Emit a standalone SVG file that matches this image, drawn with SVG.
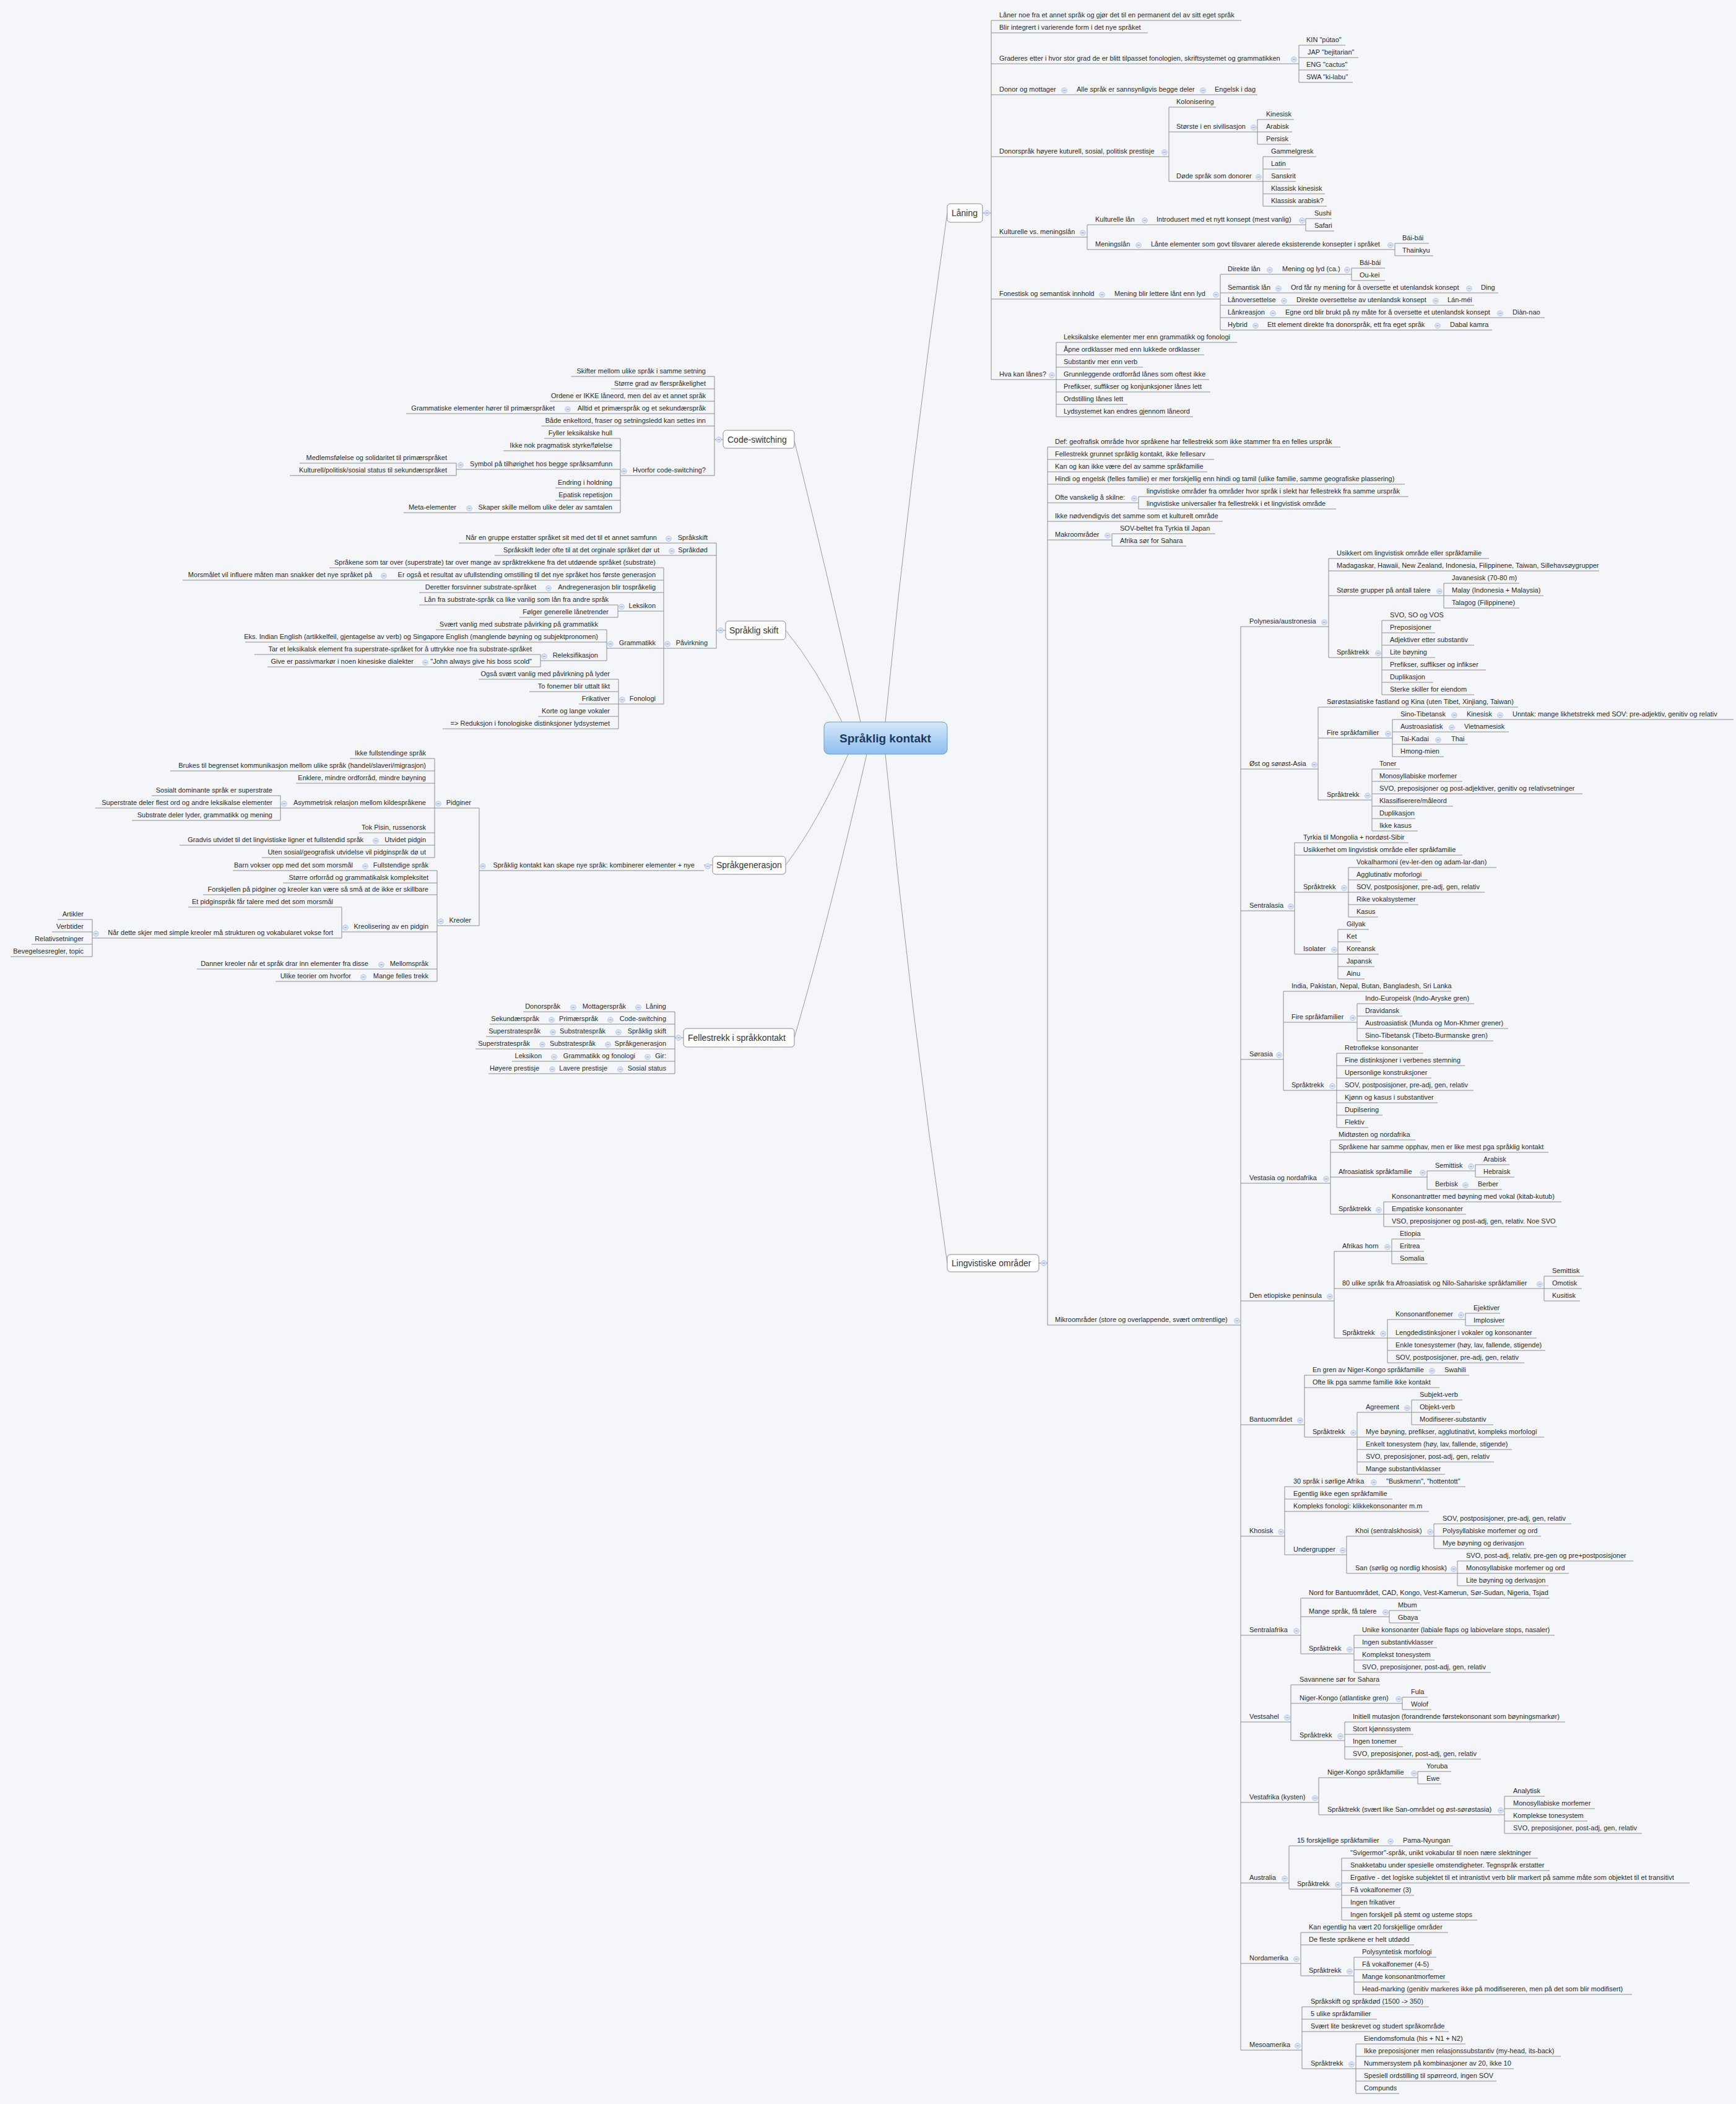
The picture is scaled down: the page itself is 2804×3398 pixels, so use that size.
<svg xmlns="http://www.w3.org/2000/svg" xmlns:xlink="http://www.w3.org/1999/xlink" width="2804" height="3398" viewBox="0 0 2804 3398">
<style>
text{font-family:"Liberation Sans",Arial,sans-serif;font-size:11px;fill:#2a2a2a}
.e{text-anchor:end}
.u,.b,.c{stroke:#8c8c8c;stroke-width:1;fill:none}
.c{stroke:#9a9a9a}
.box{fill:#fff;stroke:#8c8c8c;stroke-width:1}
.bt{font-size:14px;fill:#333}
</style>
<defs>
<linearGradient id="g" x1="0" y1="0" x2="0" y2="1"><stop offset="0" stop-color="#d6e8fb"/><stop offset="1" stop-color="#8dbdee"/></linearGradient>
<g id="m"><circle r="4.2" fill="#dfe8f5" stroke="#9fb6d6" stroke-width="0.8"/><path d="M-2.2 0H2.2" stroke="#6d8fbf" stroke-width="0.9"/></g>
</defs>
<rect width="2804" height="3398" fill="#f4f6f9"/>

<g id="connectors">
<path class="c" d="M1430 1166Q1470 760 1530 344M1430 1218Q1470 1630 1530 2040M1390 1166Q1330 900 1283 712M1360 1166Q1320 1080 1269 1018M1370 1218Q1320 1330 1269 1397M1400 1218Q1340 1480 1283 1676"/>
<path class="b" d="M1587 344H1601M1601 33V613M2098 73V133M1888 173V293M2031 193V233M2040 253V333M1756 363V403M2109 353V373M2253 393V413M1971 443V533M2183 433V453M1706 553V673"/>
<path class="b" d="M1678 2040H1692M1692 722V2140M1839 802V822M1796 862V882M2004 1012V3311M2146 902V1062M2332 942V982M2232 1002V1122M2129 1142V1292M2249 1162V1222M2216 1242V1342M2091 1361V1541M2178 1401V1481M2161 1501V1581M2073 1601V1761M2192 1621V1681M2159 1701V1821M2149 1841V1961M2305 1891V1921M2383 1881V1901M2235 1941V1981M2155 2021V2161M2248 2001V2041M2494 2061V2101M2241 2131V2201M2367 2121V2141M2107 2221V2321M2192 2281V2381M2280 2261V2301M2075 2401V2511M2175 2481V2541M2316 2461V2501M2354 2521V2561M2101 2581V2671M2244 2601V2621M2187 2641V2701M2085 2721V2811M2265 2741V2761M2172 2781V2841M2130 2871V2931M2290 2861V2881M2430 2901V2961M2082 2981V3051M2167 3001V3101M2101 3121V3191M2187 3161V3221M2103 3241V3341M2190 3301V3381"/>
<path class="b" d="M1168 710H1154M1154 608V768M1002 708V828M737 748V768M1172 1018H1157M1157 877V1047M1072 917V1137M998 977V997M980 1017V1067M873 1057V1077M999 1097V1177M1151 1397H1137M774 1305V1495M702 1225V1385M453 1285V1325M706 1406V1585M552 1465V1515M149 1485V1545M1104 1676H1090M1090 1634V1734"/>
</g>

<g id="center"><rect x="1331" y="1166" width="199" height="52" rx="8" fill="url(#g)" stroke="#6b9ccc"/><text x="1430" y="1199" text-anchor="middle" style="font-size:19px;font-weight:bold;fill:#1d3a5c">Språklig kontakt</text></g>

<g id="laning"><rect class="box" x="1530" y="329" width="57" height="30" rx="5"/><text class="bt" x="1537" y="349">Låning</text><use href="#m" x="1594" y="344"/></g>
<g id="l1"><text x="1614" y="28">Låner noe fra et annet språk og gjør det til en permanent del av sitt eget språk</text><path class="u" d="M1601 33H2005"/></g>
<g id="l2"><text x="1614" y="48">Blir integrert i varierende form i det nye språket</text><path class="u" d="M1601 53H1854"/></g>
<g id="l3"><text x="1614" y="98">Graderes etter i hvor stor grad de er blitt tilpasset fonologien, skriftsystemet og grammatikken</text><path class="u" d="M1601 103H2098"/><use href="#m" x="2090" y="96"/>
<text x="2110" y="68">KIN "pútao"</text><path class="u" d="M2098 73H2173"/><text x="2112" y="88">JAP "bejitarian"</text><path class="u" d="M2098 93H2194"/><text x="2110" y="108">ENG "cactus"</text><path class="u" d="M2098 113H2178"/><text x="2110" y="128">SWA "ki-labu"</text><path class="u" d="M2098 133H2185"/></g>
<g id="l4"><text x="1614" y="148">Donor og mottager</text><use href="#m" x="1719" y="146"/><text x="1739" y="148">Alle språk er sannsynligvis begge deler</text><use href="#m" x="1943" y="146"/><text x="1962" y="148">Engelsk i dag</text><path class="u" d="M1601 153H2031"/></g>
<g id="l5"><text x="1614" y="248">Donorspråk høyere kuturell, sosial, politisk prestisje</text><use href="#m" x="1881" y="246"/><path class="u" d="M1601 253H1888"/>
<text x="1900" y="168">Kolonisering</text><path class="u" d="M1888 173H1964"/>
<text x="1900" y="208">Største i en sivilisasjon</text><use href="#m" x="2025" y="206"/><path class="u" d="M1888 213H2031"/>
<text x="2045" y="188">Kinesisk</text><path class="u" d="M2031 193H2090"/><text x="2045" y="208">Arabisk</text><path class="u" d="M2031 213H2087"/><text x="2045" y="228">Persisk</text><path class="u" d="M2031 233H2085"/>
<text x="1900" y="288">Døde språk som donorer</text><use href="#m" x="2033" y="286"/><path class="u" d="M1888 293H2040"/>
<text x="2053" y="248">Gammelgresk</text><path class="u" d="M2040 253H2126"/><text x="2053" y="268">Latin</text><path class="u" d="M2040 273H2084"/><text x="2053" y="288">Sanskrit</text><path class="u" d="M2040 293H2093"/><text x="2053" y="308">Klassisk kinesisk</text><path class="u" d="M2040 313H2140"/><text x="2053" y="328">Klassisk arabisk?</text><path class="u" d="M2040 333H2143"/></g>
<g id="l6"><text x="1614" y="378">Kulturelle vs. meningslån</text><use href="#m" x="1749" y="376"/><path class="u" d="M1601 383H1756"/>
<text x="1769" y="358">Kulturelle lån</text><use href="#m" x="1849" y="356"/><text x="1868" y="358">Introdusert med et nytt konsept (mest vanlig)</text><use href="#m" x="2103" y="356"/><path class="u" d="M1756 363H2109"/>
<text x="2123" y="348">Sushi</text><path class="u" d="M2109 353H2151"/><text x="2123" y="368">Safari</text><path class="u" d="M2109 373H2155"/>
<text x="1769" y="398">Meningslån</text><use href="#m" x="1839" y="396"/><text x="1859" y="398">Lånte elementer som govt tilsvarer alerede eksisterende konsepter i språket</text><use href="#m" x="2246" y="396"/><path class="u" d="M1756 403H2253"/>
<text x="2265" y="388">Bái-bái</text><path class="u" d="M2253 393H2308"/><text x="2265" y="408">Thainkyu</text><path class="u" d="M2253 413H2315"/></g>
<g id="l7"><text x="1614" y="478">Fonestisk og semantisk innhold</text><use href="#m" x="1780" y="476"/><text x="1800" y="478">Mening blir lettere lånt enn lyd</text><use href="#m" x="1964" y="476"/><path class="u" d="M1601 483H1971"/>
<text x="1983" y="438">Direkte lån</text><use href="#m" x="2051" y="436"/><text x="2071" y="438">Mening og lyd (ca.)</text><use href="#m" x="2176" y="436"/><path class="u" d="M1971 443H2183"/>
<text x="2196" y="428">Bái-bái</text><path class="u" d="M2183 433H2237"/><text x="2196" y="448">Ou-kei</text><path class="u" d="M2183 453H2237"/>
<text x="1983" y="468">Semantisk lån</text><use href="#m" x="2065" y="466"/><text x="2085" y="468">Ord får ny mening for å oversette et utenlandsk konsept</text><use href="#m" x="2373" y="466"/><text x="2392" y="468">Ding</text><path class="u" d="M1971 473H2420"/>
<text x="1983" y="488">Lånoversettelse</text><use href="#m" x="2074" y="486"/><text x="2094" y="488">Direkte oversettelse av utenlandsk konsept</text><use href="#m" x="2319" y="486"/><text x="2338" y="488">Lán-méi</text><path class="u" d="M1971 493H2381"/>
<text x="1983" y="508">Lånkreasjon</text><use href="#m" x="2056" y="506"/><text x="2076" y="508">Egne ord blir brukt på ny måte for å oversette et utenlandsk konsept</text><use href="#m" x="2423" y="506"/><text x="2443" y="508">Diàn-nao</text><path class="u" d="M1971 513H2495"/>
<text x="1983" y="528">Hybrid</text><use href="#m" x="2028" y="526"/><text x="2047" y="528">Ett element direkte fra donorspråk, ett fra eget språk</text><use href="#m" x="2322" y="526"/><text x="2342" y="528">Dabal kamra</text><path class="u" d="M1971 533H2410"/></g>
<g id="l8"><text x="1614" y="608">Hva kan lånes?</text><use href="#m" x="1699" y="606"/><path class="u" d="M1601 613H1706"/>
<text x="1718" y="548">Leksikalske elementer mer enn grammatikk og fonologi</text><path class="u" d="M1706 553H1998"/>
<text x="1718" y="568">Åpne ordklasser med enn lukkede ordklasser</text><path class="u" d="M1706 573H1945"/>
<text x="1718" y="588">Substantiv mer enn verb</text><path class="u" d="M1706 593H1846"/>
<text x="1718" y="608">Grunnleggende ordforråd lånes som oftest ikke</text><path class="u" d="M1706 613H1953"/>
<text x="1718" y="628">Prefikser, suffikser og konjunksjoner lånes lett</text><path class="u" d="M1706 633H1955"/>
<text x="1718" y="648">Ordstilling lånes lett</text><path class="u" d="M1706 653H1821"/>
<text x="1718" y="668">Lydsystemet kan endres gjennom låneord</text><path class="u" d="M1706 673H1927"/></g>

<g id="lingv"><rect class="box" x="1530" y="2026" width="148" height="28" rx="5"/><text class="bt" x="1537" y="2045">Lingvistiske områder</text><use href="#m" x="1686" y="2040"/></g>
<g id="v1"><text x="1704" y="717">Def: geofrafisk område hvor språkene har fellestrekk som ikke stammer fra en felles urspråk</text><path class="u" d="M1692 722H2165"/>
<text x="1704" y="737">Fellestrekk grunnet språklig kontakt, ikke fellesarv</text><path class="u" d="M1692 742H1961"/>
<text x="1704" y="757">Kan og kan ikke være del av samme språkfamilie</text><path class="u" d="M1692 762H1950"/>
<text x="1704" y="777">Hindi og engelsk (felles familie) er mer forskjellig enn hindi og tamil (ulike familie, samme geografiske plassering)</text><path class="u" d="M1692 782H2269"/></g>
<g id="v2"><text x="1704" y="807">Ofte vanskelig å skilne:</text><use href="#m" x="1832" y="805"/><path class="u" d="M1692 812H1839"/>
<text x="1852" y="797">lingvistiske områder fra områder hvor språk i slekt har fellestrekk fra samme urspråk</text><path class="u" d="M1839 802H2275"/>
<text x="1852" y="817">lingvistiske universalier fra fellestrekk i et lingvistisk område</text><path class="u" d="M1839 822H2158"/></g>
<g id="v3"><text x="1704" y="837">Ikke nødvendigvis det samme som et kulturelt område</text><path class="u" d="M1692 842H1975"/></g>
<g id="v4"><text x="1704" y="867">Makroområder</text><use href="#m" x="1789" y="865"/><path class="u" d="M1692 872H1796"/>
<text x="1809" y="857">SOV-beltet fra Tyrkia til Japan</text><path class="u" d="M1796 862H1963"/><text x="1809" y="877">Afrika sør for Sahara</text><path class="u" d="M1796 882H1916"/></g>
<g id="v5"><text x="1704" y="2135">Mikroområder (store og overlappende, svært omtrentlige)</text><use href="#m" x="1998" y="2133"/><path class="u" d="M1692 2140H2004"/></g>

<g id="poly"><text x="2018" y="1007">Polynesia/austronesia</text><use href="#m" x="2139" y="1005"/><path class="u" d="M2004 1012H2146"/>
<text x="2159" y="897">Usikkert om lingvistisk område eller språkfamilie</text><path class="u" d="M2146 902H2405"/>
<text x="2159" y="917">Madagaskar, Hawaii, New Zealand, Indonesia, Filippinene, Taiwan, Sillehavsøygrupper</text><path class="u" d="M2146 922H2583"/>
<text x="2159" y="957">Største grupper på antall talere</text><use href="#m" x="2325" y="955"/><path class="u" d="M2146 962H2332"/>
<text x="2345" y="937">Javanesisk (70-80 m)</text><path class="u" d="M2332 942H2454"/><text x="2345" y="957">Malay (Indonesia + Malaysia)</text><path class="u" d="M2332 962H2493"/><text x="2345" y="977">Talagog (Filippinene)</text><path class="u" d="M2332 982H2454"/>
<text x="2159" y="1057">Språktrekk</text><use href="#m" x="2226" y="1055"/><path class="u" d="M2146 1062H2232"/>
<text x="2245" y="997">SVO, SO og VOS</text><path class="u" d="M2232 1002H2327"/><text x="2245" y="1017">Preposisjoner</text><path class="u" d="M2232 1022H2318"/><text x="2245" y="1037">Adjektiver etter substantiv</text><path class="u" d="M2232 1042H2381"/><text x="2245" y="1057">Lite bøyning</text><path class="u" d="M2232 1062H2318"/><text x="2245" y="1077">Prefikser, suffikser og infikser</text><path class="u" d="M2232 1082H2400"/><text x="2245" y="1097">Duplikasjon</text><path class="u" d="M2232 1102H2315"/><text x="2245" y="1117">Sterke skiller for eiendom</text><path class="u" d="M2232 1122H2381"/></g>

<g id="ost"><text x="2018" y="1237">Øst og sørøst-Asia</text><use href="#m" x="2123" y="1235"/><path class="u" d="M2004 1242H2129"/>
<text x="2143" y="1137">Sørøstasiatiske fastland og Kina (uten Tibet, Xinjiang, Taiwan)</text><path class="u" d="M2129 1142H2452"/>
<text x="2143" y="1187">Fire språkfamilier</text><use href="#m" x="2242" y="1185"/><path class="u" d="M2129 1192H2249"/>
<text x="2262" y="1157">Sino-Tibetansk</text><use href="#m" x="2349" y="1155"/><text x="2369" y="1157">Kinesisk</text><use href="#m" x="2423" y="1155"/><text x="2443" y="1157">Unntak: mange likhetstrekk med SOV: pre-adjektiv, genitiv og relativ</text><path class="u" d="M2249 1162H2800"/>
<text x="2262" y="1177">Austroasiatisk</text><use href="#m" x="2345" y="1175"/><text x="2365" y="1177">Vietnamesisk</text><path class="u" d="M2249 1182H2437"/>
<text x="2262" y="1197">Tai-Kadai</text><use href="#m" x="2323" y="1195"/><text x="2344" y="1197">Thai</text><path class="u" d="M2249 1202H2371"/>
<text x="2262" y="1217">Hmong-mien</text><path class="u" d="M2249 1222H2332"/>
<text x="2143" y="1287">Språktrekk</text><use href="#m" x="2209" y="1285"/><path class="u" d="M2129 1292H2216"/>
<text x="2228" y="1237">Toner</text><path class="u" d="M2216 1242H2261"/><text x="2228" y="1257">Monosyllabiske morfemer</text><path class="u" d="M2216 1262H2362"/><text x="2228" y="1277">SVO, preposisjoner og post-adjektiver, genitiv og relativsetninger</text><path class="u" d="M2216 1282H2556"/><text x="2228" y="1297">Klassifiserere/måleord</text><path class="u" d="M2216 1302H2347"/><text x="2228" y="1317">Duplikasjon</text><path class="u" d="M2216 1322H2286"/><text x="2228" y="1337">Ikke kasus</text><path class="u" d="M2216 1342H2290"/></g>

<g id="sentralasia"><text x="2018" y="1466">Sentralasia</text><use href="#m" x="2085" y="1464"/><path class="u" d="M2004 1471H2091"/>
<text x="2105" y="1356">Tyrkia til Mongolia + nordøst-Sibir</text><path class="u" d="M2091 1361H2275"/>
<text x="2105" y="1376">Usikkerhet om lingvistisk område eller språkfamilie</text><path class="u" d="M2091 1381H2362"/>
<text x="2105" y="1436">Språktrekk</text><use href="#m" x="2171" y="1434"/><path class="u" d="M2091 1441H2178"/>
<text x="2191" y="1396">Vokalharmoni (ev-ler-den og adam-lar-dan)</text><path class="u" d="M2178 1401H2417"/><text x="2191" y="1416">Agglutinativ moforlogi</text><path class="u" d="M2178 1421H2306"/><text x="2191" y="1436">SOV, postposisjoner, pre-adj, gen, relativ</text><path class="u" d="M2178 1441H2398"/><text x="2191" y="1456">Rike vokalsystemer</text><path class="u" d="M2178 1461H2291"/><text x="2191" y="1476">Kasus</text><path class="u" d="M2178 1481H2226"/>
<text x="2105" y="1536">Isolater</text><use href="#m" x="2155" y="1534"/><path class="u" d="M2091 1541H2161"/>
<text x="2175" y="1496">Gilyak</text><path class="u" d="M2161 1501H2211"/><text x="2175" y="1516">Ket</text><path class="u" d="M2161 1521H2198"/><text x="2175" y="1536">Koreansk</text><path class="u" d="M2161 1541H2227"/><text x="2175" y="1556">Japansk</text><path class="u" d="M2161 1561H2220"/><text x="2175" y="1576">Ainu</text><path class="u" d="M2161 1581H2204"/></g>

<g id="sorasia"><text x="2018" y="1706">Sørasia</text><use href="#m" x="2066" y="1704"/><path class="u" d="M2004 1711H2073"/>
<text x="2086" y="1596">India, Pakistan, Nepal, Butan, Bangladesh, Sri Lanka</text><path class="u" d="M2073 1601H2344"/>
<text x="2086" y="1646">Fire språkfamilier</text><use href="#m" x="2185" y="1644"/><path class="u" d="M2073 1651H2192"/>
<text x="2205" y="1616">Indo-Europeisk (Indo-Aryske gren)</text><path class="u" d="M2192 1621H2381"/><text x="2205" y="1636">Dravidansk</text><path class="u" d="M2192 1641H2265"/><text x="2205" y="1656">Austroasiatisk (Munda og Mon-Khmer grener)</text><path class="u" d="M2192 1661H2436"/><text x="2205" y="1676">Sino-Tibetansk (Tibeto-Burmanske gren)</text><path class="u" d="M2192 1681H2412"/>
<text x="2086" y="1756">Språktrekk</text><use href="#m" x="2152" y="1754"/><path class="u" d="M2073 1761H2159"/>
<text x="2172" y="1696">Retroflekse konsonanter</text><path class="u" d="M2159 1701H2299"/><text x="2172" y="1716">Fine distinksjoner i verbenes stemning</text><path class="u" d="M2159 1721H2366"/><text x="2172" y="1736">Upersonlige konstruksjoner</text><path class="u" d="M2159 1741H2312"/><text x="2172" y="1756">SOV, postposisjoner, pre-adj, gen, relativ</text><path class="u" d="M2159 1761H2380"/><text x="2172" y="1776">Kjønn og kasus i substantiver</text><path class="u" d="M2159 1781H2322"/><text x="2172" y="1796">Dupilsering</text><path class="u" d="M2159 1801H2233"/><text x="2172" y="1816">Flektiv</text><path class="u" d="M2159 1821H2210"/></g>

<g id="vestasia"><text x="2018" y="1906">Vestasia og nordafrika</text><use href="#m" x="2142" y="1904"/><path class="u" d="M2004 1911H2149"/>
<text x="2162" y="1836">Midtøsten og nordafrika</text><path class="u" d="M2149 1841H2286"/>
<text x="2162" y="1856">Språkene har samme opphav, men er like mest pga språklig kontakt</text><path class="u" d="M2149 1861H2501"/>
<text x="2162" y="1896">Afroasiatisk språkfamilie</text><use href="#m" x="2298" y="1894"/><path class="u" d="M2149 1901H2305"/>
<text x="2318" y="1886">Semittisk</text><use href="#m" x="2376" y="1884"/><path class="u" d="M2305 1891H2383"/>
<text x="2396" y="1876">Arabisk</text><path class="u" d="M2383 1881H2438"/><text x="2396" y="1896">Hebraisk</text><path class="u" d="M2383 1901H2446"/>
<text x="2318" y="1916">Berbisk</text><use href="#m" x="2367" y="1914"/><text x="2387" y="1916">Berber</text><path class="u" d="M2305 1921H2426"/>
<text x="2162" y="1956">Språktrekk</text><use href="#m" x="2227" y="1954"/><path class="u" d="M2149 1961H2235"/>
<text x="2248" y="1936">Konsonantrøtter med bøyning med vokal (kitab-kutub)</text><path class="u" d="M2235 1941H2522"/><text x="2248" y="1956">Empatiske konsonanter</text><path class="u" d="M2235 1961H2368"/><text x="2248" y="1976">VSO, preposisjoner og post-adj, gen, relativ. Noe SVO</text><path class="u" d="M2235 1981H2515"/></g>

<g id="etiop"><text x="2018" y="2096">Den etiopiske peninsula</text><use href="#m" x="2148" y="2094"/><path class="u" d="M2004 2101H2155"/>
<text x="2168" y="2016">Afrikas horn</text><use href="#m" x="2241" y="2014"/><path class="u" d="M2155 2021H2248"/>
<text x="2261" y="1996">Etiopia</text><path class="u" d="M2248 2001H2301"/><text x="2261" y="2016">Eritrea</text><path class="u" d="M2248 2021H2300"/><text x="2261" y="2036">Somalia</text><path class="u" d="M2248 2041H2306"/>
<text x="2168" y="2076">80 ulike språk fra Afroasiatisk og Nilo-Sahariske språkfamilier</text><use href="#m" x="2487" y="2074"/><path class="u" d="M2155 2081H2494"/>
<text x="2507" y="2056">Semittisk</text><path class="u" d="M2494 2061H2558"/><text x="2507" y="2076">Omotisk</text><path class="u" d="M2494 2081H2555"/><text x="2507" y="2096">Kusitisk</text><path class="u" d="M2494 2101H2552"/>
<text x="2168" y="2156">Språktrekk</text><use href="#m" x="2234" y="2154"/><path class="u" d="M2155 2161H2241"/>
<text x="2254" y="2126">Konsonantfonemer</text><use href="#m" x="2360" y="2124"/><path class="u" d="M2241 2131H2367"/>
<text x="2380" y="2116">Ejektiver</text><path class="u" d="M2367 2121H2423"/><text x="2380" y="2136">Implosiver</text><path class="u" d="M2367 2141H2430"/>
<text x="2254" y="2156">Lengdedistinksjoner i vokaler og konsonanter</text><path class="u" d="M2241 2161H2482"/><text x="2254" y="2176">Enkle tonesystemer (høy, lav, fallende, stigende)</text><path class="u" d="M2241 2181H2496"/><text x="2254" y="2196">SOV, postposisjoner, pre-adj, gen, relativ</text><path class="u" d="M2241 2201H2462"/></g>

<g id="bantu"><text x="2018" y="2296">Bantuområdet</text><use href="#m" x="2100" y="2294"/><path class="u" d="M2004 2301H2107"/>
<text x="2120" y="2216">En gren av Niger-Kongo språkfamilie</text><use href="#m" x="2313" y="2214"/><text x="2333" y="2216">Swahili</text><path class="u" d="M2107 2221H2373"/>
<text x="2120" y="2236">Ofte lik pga samme familie ikke kontakt</text><path class="u" d="M2107 2241H2325"/>
<text x="2120" y="2316">Språktrekk</text><use href="#m" x="2186" y="2314"/><path class="u" d="M2107 2321H2192"/>
<text x="2206" y="2276">Agreement</text><use href="#m" x="2273" y="2274"/><path class="u" d="M2192 2281H2280"/>
<text x="2293" y="2256">Subjekt-verb</text><path class="u" d="M2280 2261H2362"/><text x="2293" y="2276">Objekt-verb</text><path class="u" d="M2280 2281H2359"/><text x="2293" y="2296">Modifiserer-substantiv</text><path class="u" d="M2280 2301H2412"/>
<text x="2206" y="2316">Mye bøyning, prefikser, agglutinativt, kompleks morfologi</text><path class="u" d="M2192 2321H2494"/><text x="2206" y="2336">Enkelt tonesystem (høy, lav, fallende, stigende)</text><path class="u" d="M2192 2341H2442"/><text x="2206" y="2356">SVO, preposisjoner, post-adj, gen, relativ</text><path class="u" d="M2192 2361H2413"/><text x="2206" y="2376">Mange substantivklasser</text><path class="u" d="M2192 2381H2334"/></g>

<g id="khosisk"><text x="2018" y="2476">Khosisk</text><use href="#m" x="2069" y="2474"/><path class="u" d="M2004 2481H2075"/>
<text x="2089" y="2396">30 språk i sørlige Afrika</text><use href="#m" x="2219" y="2394"/><text x="2239" y="2396">"Buskmenn", "hottentott"</text><path class="u" d="M2075 2401H2367"/>
<text x="2089" y="2416">Egentlig ikke egen språkfamilie</text><path class="u" d="M2075 2421H2249"/>
<text x="2089" y="2436">Kompleks fonologi: klikkekonsonanter m.m</text><path class="u" d="M2075 2441H2308"/>
<text x="2089" y="2506">Undergrupper</text><use href="#m" x="2169" y="2504"/><path class="u" d="M2075 2511H2175"/>
<text x="2189" y="2476">Khoi (sentralskhosisk)</text><use href="#m" x="2310" y="2474"/><path class="u" d="M2175 2481H2316"/>
<text x="2330" y="2456">SOV, postposisjoner, pre-adj, gen, relativ</text><path class="u" d="M2316 2461H2538"/><text x="2330" y="2476">Polysyllabiske morfemer og ord</text><path class="u" d="M2316 2481H2489"/><text x="2330" y="2496">Mye bøyning og derivasjon</text><path class="u" d="M2316 2501H2465"/>
<text x="2189" y="2536">San (sørlig og nordlig khosisk)</text><use href="#m" x="2348" y="2534"/><path class="u" d="M2175 2541H2354"/>
<text x="2368" y="2516">SVO, post-adj, relativ, pre-gen og pre+postposisjoner</text><path class="u" d="M2354 2521H2638"/><text x="2368" y="2536">Monosyllabiske morfemer og ord</text><path class="u" d="M2354 2541H2534"/><text x="2368" y="2556">Lite bøyning og derivasjon</text><path class="u" d="M2354 2561H2501"/></g>

<g id="sentralafrika"><text x="2018" y="2636">Sentralafrika</text><use href="#m" x="2094" y="2634"/><path class="u" d="M2004 2641H2101"/>
<text x="2114" y="2576">Nord for Bantuområdet, CAD, Kongo, Vest-Kamerun, Sør-Sudan, Nigeria, Tsjad</text><path class="u" d="M2101 2581H2503"/>
<text x="2114" y="2606">Mange språk, få talere</text><use href="#m" x="2238" y="2604"/><path class="u" d="M2101 2611H2244"/>
<text x="2258" y="2596">Mbum</text><path class="u" d="M2244 2601H2295"/><text x="2258" y="2616">Gbaya</text><path class="u" d="M2244 2621H2293"/>
<text x="2114" y="2666">Språktrekk</text><use href="#m" x="2180" y="2664"/><path class="u" d="M2101 2671H2187"/>
<text x="2200" y="2636">Unike konsonanter (labiale flaps og labiovelare stops, nasaler)</text><path class="u" d="M2187 2641H2511"/><text x="2200" y="2656">Ingen substantivklasser</text><path class="u" d="M2187 2661H2321"/><text x="2200" y="2676">Komplekst tonesystem</text><path class="u" d="M2187 2681H2317"/><text x="2200" y="2696">SVO, preposisjoner, post-adj, gen, relativ</text><path class="u" d="M2187 2701H2408"/></g>

<g id="vestsahel"><text x="2018" y="2776">Vestsahel</text><use href="#m" x="2079" y="2774"/><path class="u" d="M2004 2781H2085"/>
<text x="2099" y="2716">Savannene sør for Sahara</text><path class="u" d="M2085 2721H2229"/>
<text x="2099" y="2746">Niger-Kongo (atlantiske gren)</text><use href="#m" x="2259" y="2744"/><path class="u" d="M2085 2751H2265"/>
<text x="2279" y="2736">Fula</text><path class="u" d="M2265 2741H2306"/><text x="2279" y="2756">Wolof</text><path class="u" d="M2265 2761H2312"/>
<text x="2099" y="2806">Språktrekk</text><use href="#m" x="2165" y="2804"/><path class="u" d="M2085 2811H2172"/>
<text x="2185" y="2776">Initiell mutasjon (forandrende førstekonsonant som bøyningsmarkør)</text><path class="u" d="M2172 2781H2528"/><text x="2185" y="2796">Stort kjønnssystem</text><path class="u" d="M2172 2801H2283"/><text x="2185" y="2816">Ingen tonemer</text><path class="u" d="M2172 2821H2266"/><text x="2185" y="2836">SVO, preposisjoner, post-adj, gen, relativ</text><path class="u" d="M2172 2841H2392"/></g>

<g id="vestafrika"><text x="2018" y="2906">Vestafrika (kysten)</text><use href="#m" x="2124" y="2904"/><path class="u" d="M2004 2911H2130"/>
<text x="2144" y="2866">Niger-Kongo språkfamilie</text><use href="#m" x="2284" y="2864"/><path class="u" d="M2130 2871H2290"/>
<text x="2304" y="2856">Yoruba</text><path class="u" d="M2290 2861H2344"/><text x="2304" y="2876">Ewe</text><path class="u" d="M2290 2881H2328"/>
<text x="2144" y="2926">Språktrekk (svært like San-området og øst-sørøstasia)</text><use href="#m" x="2424" y="2924"/><path class="u" d="M2130 2931H2430"/>
<text x="2444" y="2896">Analytisk</text><path class="u" d="M2430 2901H2495"/><text x="2444" y="2916">Monosyllabiske morfemer</text><path class="u" d="M2430 2921H2576"/><text x="2444" y="2936">Komplekse tonesystem</text><path class="u" d="M2430 2941H2564"/><text x="2444" y="2956">SVO, preposisjoner, post-adj, gen, relativ</text><path class="u" d="M2430 2961H2652"/></g>

<g id="australia"><text x="2018" y="3036">Australia</text><use href="#m" x="2075" y="3034"/><path class="u" d="M2004 3041H2082"/>
<text x="2095" y="2976">15 forskjellige språkfamilier</text><use href="#m" x="2246" y="2974"/><text x="2266" y="2976">Pama-Nyungan</text><path class="u" d="M2082 2981H2347"/>
<text x="2095" y="3046">Språktrekk</text><use href="#m" x="2161" y="3044"/><path class="u" d="M2082 3051H2167"/>
<text x="2181" y="2996">"Svigermor"-språk, unikt vokabular til noen nære slektninger</text><path class="u" d="M2167 3001H2484"/><text x="2181" y="3016">Snakketabu under spesielle omstendigheter. Tegnspråk erstatter</text><path class="u" d="M2167 3021H2503"/><text x="2181" y="3036">Ergative - det logiske subjektet til et intranistivt verb blir markert på samme måte som objektet til et transitivt</text><path class="u" d="M2167 3041H2729"/><text x="2181" y="3056">Få vokalfonemer (3)</text><path class="u" d="M2167 3061H2284"/><text x="2181" y="3076">Ingen frikativer</text><path class="u" d="M2167 3081H2262"/><text x="2181" y="3096">Ingen forskjell på stemt og usteme stops</text><path class="u" d="M2167 3101H2386"/></g>

<g id="nordamerika"><text x="2018" y="3166">Nordamerika</text><use href="#m" x="2094" y="3164"/><path class="u" d="M2004 3171H2101"/>
<text x="2114" y="3116">Kan egentlig ha vært 20 forskjellige områder</text><path class="u" d="M2101 3121H2339"/>
<text x="2114" y="3136">De fleste språkene er helt utdødd</text><path class="u" d="M2101 3141H2284"/>
<text x="2114" y="3186">Språktrekk</text><use href="#m" x="2180" y="3184"/><path class="u" d="M2101 3191H2187"/>
<text x="2200" y="3156">Polysyntetisk morfologi</text><path class="u" d="M2187 3161H2320"/><text x="2200" y="3176">Få vokalfonemer (4-5)</text><path class="u" d="M2187 3181H2315"/><text x="2200" y="3196">Mange konsonantmorfemer</text><path class="u" d="M2187 3201H2341"/><text x="2200" y="3216">Head-marking (genitiv markeres ikke på modifisereren, men på det som blir modifisert)</text><path class="u" d="M2187 3221H2636"/></g>

<g id="mesoamerika"><text x="2018" y="3306">Mesoamerika</text><use href="#m" x="2096" y="3304"/><path class="u" d="M2004 3311H2103"/>
<text x="2117" y="3236">Språkskift og språkdød (1500 -&gt; 350)</text><path class="u" d="M2103 3241H2308"/>
<text x="2117" y="3256">5 ulike språkfamilier</text><path class="u" d="M2103 3261H2224"/>
<text x="2117" y="3276">Svært lite beskrevet og studert språkområde</text><path class="u" d="M2103 3281H2340"/>
<text x="2117" y="3336">Språktrekk</text><use href="#m" x="2183" y="3334"/><path class="u" d="M2103 3341H2190"/>
<text x="2203" y="3296">Eiendomsfomula (his + N1 + N2)</text><path class="u" d="M2190 3301H2367"/><text x="2203" y="3316">Ikke preposisjoner men relasjonssubstantiv (my-head, its-back)</text><path class="u" d="M2190 3321H2521"/><text x="2203" y="3336">Nummersystem på kombinasjoner av 20, ikke 10</text><path class="u" d="M2190 3341H2445"/><text x="2203" y="3356">Spesiell ordstilling til spørreord, ingen SOV</text><path class="u" d="M2190 3361H2417"/><text x="2203" y="3376">Compunds</text><path class="u" d="M2190 3381H2260"/></g>

<g id="codeswitching"><rect class="box" x="1168" y="695" width="115" height="29" rx="5"/><text class="bt" x="1175" y="715">Code-switching</text><use href="#m" x="1161" y="710"/></g>
<g id="c1"><text class="e" x="1140" y="603">Skifter mellom ulike språk i samme setning</text><path class="u" d="M922 608H1154"/>
<text class="e" x="1140" y="623">Større grad av flerspråkelighet</text><path class="u" d="M987 628H1154"/>
<text class="e" x="1140" y="643">Ordene er IKKE låneord, men del av et annet språk</text><path class="u" d="M888 648H1154"/>
<text class="e" x="1140" y="663">Alltid et primærspråk og et sekundærspråk</text><use href="#m" x="917" y="661"/><text class="e" x="896" y="663">Grammatiske elementer hører til primærspråket</text><path class="u" d="M656 668H1154"/>
<text class="e" x="1140" y="683">Både enkeltord, fraser og setningsledd kan settes inn</text><path class="u" d="M874 688H1154"/></g>
<g id="c2"><text class="e" x="1140" y="763">Hvorfor code-switching?</text><use href="#m" x="1008" y="761"/><path class="u" d="M1002 768H1154"/>
<text class="e" x="989" y="703">Fyller leksikalske hull</text><path class="u" d="M879 708H1002"/>
<text class="e" x="989" y="723">Ikke nok pragmatisk styrke/følelse</text><path class="u" d="M813 728H1002"/>
<text class="e" x="989" y="753">Symbol på tilhørighet hos begge språksamfunn</text><use href="#m" x="744" y="751"/><path class="u" d="M737 758H1002"/>
<text class="e" x="722" y="743">Medlemsfølelse og solidaritet til primærspråket</text><path class="u" d="M484 748H737"/>
<text class="e" x="722" y="763">Kulturell/politisk/sosial status til sekundærspråket</text><path class="u" d="M468 768H737"/>
<text class="e" x="989" y="783">Endring i holdning</text><path class="u" d="M897 788H1002"/>
<text class="e" x="989" y="803">Epatisk repetisjon</text><path class="u" d="M897 808H1002"/>
<text class="e" x="989" y="823">Skaper skille mellom ulike deler av samtalen</text><use href="#m" x="758" y="821"/><text class="e" x="737" y="823">Meta-elementer</text><path class="u" d="M652 828H1002"/></g>

<g id="skift"><rect class="box" x="1172" y="1003" width="97" height="30" rx="5"/><text class="bt" x="1178" y="1023">Språklig skift</text><use href="#m" x="1164" y="1018"/></g>
<g id="s1"><text class="e" x="1143" y="872">Språkskift</text><use href="#m" x="1080" y="870"/><text class="e" x="1061" y="872">Når en gruppe erstatter språket sit med det til et annet samfunn</text><path class="u" d="M741 877H1157"/>
<text class="e" x="1143" y="892">Språkdød</text><use href="#m" x="1085" y="890"/><text class="e" x="1065" y="892">Språkskift leder ofte til at det orginale språket dør ut</text><path class="u" d="M799 897H1157"/></g>
<g id="s2"><text class="e" x="1143" y="1042">Påvirkning</text><use href="#m" x="1078" y="1040"/><path class="u" d="M1072 1047H1157"/>
<text class="e" x="1059" y="912">Språkene som tar over (superstrate) tar over mange av språktrekkene fra det utdøende språket (substrate)</text><path class="u" d="M532 917H1072"/>
<text class="e" x="1059" y="932">Er også et resultat av ufullstending omstilling  til det nye språket hos første generasjon</text><use href="#m" x="620" y="930"/><text class="e" x="601" y="932">Morsmålet vil influere måten man snakker det nye språket på</text><path class="u" d="M295 937H1072"/>
<text class="e" x="1059" y="952">Andregenerasjon blir tospråkelig</text><use href="#m" x="886" y="950"/><text class="e" x="866" y="952">Deretter forsvinner substrate-språket</text><path class="u" d="M677 957H1072"/>
<text class="e" x="1059" y="982">Leksikon</text><use href="#m" x="1004" y="980"/><path class="u" d="M998 987H1072"/>
<text class="e" x="983" y="972">Lån fra substrate-språk ca like vanlig som lån fra andre språk</text><path class="u" d="M677 977H998"/>
<text class="e" x="983" y="992">Følger generelle lånetrender</text><path class="u" d="M839 997H998"/>
<text class="e" x="1059" y="1042">Grammatikk</text><use href="#m" x="986" y="1040"/><path class="u" d="M980 1047H1072"/>
<text class="e" x="966" y="1012">Svært vanlig med substrate påvirking på grammatikk</text><path class="u" d="M704 1017H980"/>
<text class="e" x="966" y="1032">Eks. Indian English (artikkelfeil, gjentagelse av verb) og Singapore English (manglende bøyning og subjektpronomen)</text><path class="u" d="M396 1037H980"/>
<text class="e" x="966" y="1062">Releksifikasjon</text><use href="#m" x="879" y="1060"/><path class="u" d="M873 1067H980"/>
<text class="e" x="859" y="1052">Tar et leksikalsk element fra superstrate-språket for å uttrykke noe fra substrate-språket</text><path class="u" d="M411 1057H873"/>
<text class="e" x="859" y="1072">"John always give his boss scold"</text><use href="#m" x="687" y="1070"/><text class="e" x="668" y="1072">Give er passivmarkør i noen kinesiske dialekter</text><path class="u" d="M432 1077H873"/>
<text class="e" x="1059" y="1132">Fonologi</text><use href="#m" x="1005" y="1130"/><path class="u" d="M999 1137H1072"/>
<text class="e" x="985" y="1092">Også svært vanlig med påvirkning på lyder</text><path class="u" d="M773 1097H999"/>
<text class="e" x="985" y="1112">To fonemer blir uttalt likt</text><path class="u" d="M855 1117H999"/>
<text class="e" x="985" y="1132">Frikativer</text><path class="u" d="M935 1137H999"/>
<text class="e" x="985" y="1152">Korte og lange vokaler</text><path class="u" d="M869 1157H999"/>
<text class="e" x="985" y="1172">=&gt; Reduksjon i fonologiske distinksjoner  lydsystemet</text><path class="u" d="M715 1177H999"/></g>

<g id="generasjon"><rect class="box" x="1151" y="1383" width="118" height="29" rx="5"/><text class="bt" x="1157" y="1402">Språkgenerasjon</text><use href="#m" x="1143" y="1399"/></g>
<g id="g1"><text class="e" x="1122" y="1401">Språklig kontakt kan skape nye språk: kombinerer elementer + nye</text><use href="#m" x="780" y="1399"/><path class="u" d="M774 1406H1137"/>
<text class="e" x="761" y="1300">Pidginer</text><use href="#m" x="708" y="1298"/><path class="u" d="M702 1305H774"/>
<text class="e" x="688" y="1220">Ikke fullstendinge språk</text><path class="u" d="M565 1225H702"/>
<text class="e" x="688" y="1240">Brukes til begrenset kommunikasjon mellom ulike språk (handel/slaveri/migrasjon)</text><path class="u" d="M275 1245H702"/>
<text class="e" x="688" y="1260">Enklere, mindre ordforråd, mindre bøyning</text><path class="u" d="M478 1265H702"/>
<text class="e" x="688" y="1300">Asymmetrisk relasjon mellom kildespråkene</text><use href="#m" x="459" y="1298"/><path class="u" d="M453 1305H702"/>
<text class="e" x="440" y="1280">Sosialt dominante språk er superstrate</text><path class="u" d="M245 1285H453"/>
<text class="e" x="440" y="1300">Superstrate deler flest ord og andre leksikalse elementer</text><path class="u" d="M154 1305H453"/>
<text class="e" x="440" y="1320">Substrate deler lyder, grammatikk og mening</text><path class="u" d="M213 1325H453"/>
<text class="e" x="688" y="1340">Tok Pisin, russenorsk</text><path class="u" d="M580 1345H702"/>
<text class="e" x="688" y="1360">Utvidet pidgin</text><use href="#m" x="607" y="1358"/><text class="e" x="587" y="1360">Gradvis utvidet til det lingvistiske ligner et fullstendid språk</text><path class="u" d="M290 1365H702"/>
<text class="e" x="688" y="1380">Uten sosial/geografisk utvidelse vil pidginspråk dø ut</text><path class="u" d="M423 1385H702"/>
<text class="e" x="761" y="1490">Kreoler</text><use href="#m" x="712" y="1488"/><path class="u" d="M706 1495H774"/>
<text class="e" x="692" y="1401">Fullstendige språk</text><use href="#m" x="590" y="1399"/><text class="e" x="570" y="1401">Barn vokser opp med det som morsmål</text><path class="u" d="M376 1406H706"/>
<text class="e" x="692" y="1421">Større orforråd og grammatikalsk kompleksitet</text><path class="u" d="M457 1426H706"/>
<text class="e" x="692" y="1440">Forskjellen på pidginer og kreoler kan være så små at de ikke er skillbare</text><path class="u" d="M328 1445H706"/>
<text class="e" x="692" y="1500">Kreolisering av en pidgin</text><use href="#m" x="558" y="1498"/><path class="u" d="M552 1505H706"/>
<text class="e" x="538" y="1460">Et pidginspråk får talere med det som morsmål</text><path class="u" d="M304 1465H552"/>
<text class="e" x="538" y="1510">Når dette skjer med simple kreoler må strukturen og vokabularet vokse fort</text><use href="#m" x="155" y="1508"/><path class="u" d="M149 1515H552"/>
<text class="e" x="135" y="1480">Artikler</text><path class="u" d="M93 1485H149"/>
<text class="e" x="135" y="1500">Verbtider</text><path class="u" d="M84 1505H149"/>
<text class="e" x="135" y="1520">Relativsetninger</text><path class="u" d="M51 1525H149"/>
<text class="e" x="135" y="1540">Bevegelsesregler, topic</text><path class="u" d="M17 1545H149"/>
<text class="e" x="692" y="1560">Mellomspråk</text><use href="#m" x="616" y="1558"/><text class="e" x="595" y="1560">Danner kreoler når et språk drar inn elementer fra disse</text><path class="u" d="M318 1565H706"/>
<text class="e" x="692" y="1580">Mange felles trekk</text><use href="#m" x="587" y="1578"/><text class="e" x="567" y="1580">Ulike teorier om hvorfor</text><path class="u" d="M445 1585H706"/></g>

<g id="fellestrekk"><rect class="box" x="1104" y="1661" width="179" height="30" rx="5"/><text class="bt" x="1111" y="1681">Fellestrekk i språkkontakt</text><use href="#m" x="1096" y="1676"/></g>
<g id="f1"><text class="e" x="905" y="1629">Donorspråk</text><use href="#m" x="926" y="1627"/><text class="e" x="1011" y="1629">Mottagerspråk</text><use href="#m" x="1031" y="1627"/><text class="e" x="1076" y="1629">Låning</text><path class="u" d="M845 1634H1090"/>
<text class="e" x="871" y="1649">Sekundærspråk</text><use href="#m" x="891" y="1647"/><text class="e" x="966" y="1649">Primærspråk</text><use href="#m" x="986" y="1647"/><text class="e" x="1076" y="1649">Code-switching</text><path class="u" d="M791 1654H1090"/>
<text class="e" x="873" y="1669">Superstratespråk</text><use href="#m" x="893" y="1667"/><text class="e" x="978" y="1669">Substratespråk</text><use href="#m" x="999" y="1667"/><text class="e" x="1076" y="1669">Språklig skift</text><path class="u" d="M785 1674H1090"/>
<text class="e" x="856" y="1689">Superstratespråk</text><use href="#m" x="876" y="1687"/><text class="e" x="962" y="1689">Substratespråk</text><use href="#m" x="982" y="1687"/><text class="e" x="1076" y="1689">Språkgenerasjon</text><path class="u" d="M768 1694H1090"/>
<text class="e" x="875" y="1709">Leksikon</text><use href="#m" x="895" y="1707"/><text class="e" x="1026" y="1709">Grammatikk og fonologi</text><use href="#m" x="1046" y="1707"/><text class="e" x="1076" y="1709">Gir:</text><path class="u" d="M827 1714H1090"/>
<text class="e" x="871" y="1729">Høyere prestisje</text><use href="#m" x="892" y="1727"/><text class="e" x="981" y="1729">Lavere prestisje</text><use href="#m" x="1002" y="1727"/><text class="e" x="1076" y="1729">Sosial status</text><path class="u" d="M789 1734H1090"/></g>
</svg>
